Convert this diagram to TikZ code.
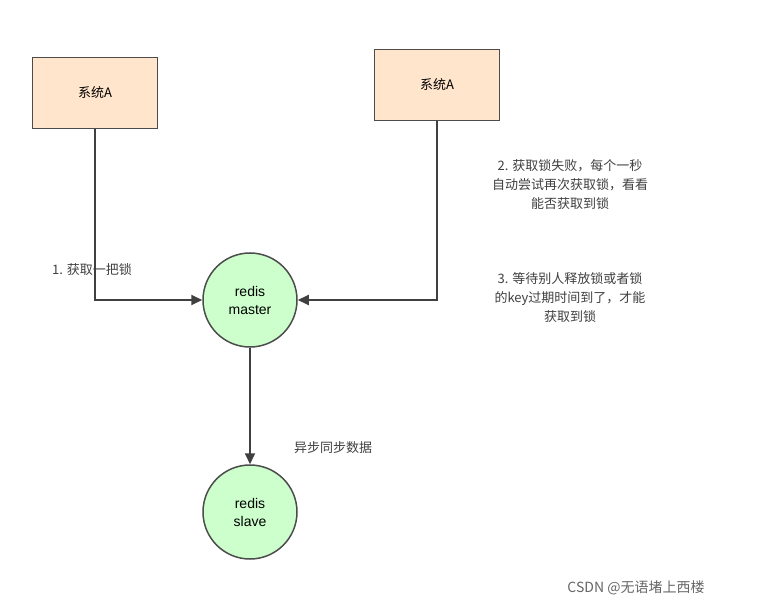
\documentclass[tikz,border=0pt]{standalone}
\usepackage{fontspec}
\setmainfont{Liberation Sans}
\newfontfamily\cjk{Noto Sans CJK SC}
\usetikzlibrary{arrows.meta}
\begin{document}
\begin{tikzpicture}[x=1pt,y=-1pt,
  sysbox/.style={draw=black!70,fill=orange!20!white,line width=1.5pt,minimum width=125pt,minimum height=71pt,font=\cjk\fontsize{13}{15}\selectfont},
  redis/.style={circle,draw=black!70,fill=green!20!white,line width=1.5pt,minimum size=94pt,align=center,font=\fontsize{14}{18}\selectfont},
  conn/.style={draw=black!75,line width=2pt,-{Triangle[length=11pt,width=10pt]}},
  lbl/.style={font=\cjk\fontsize{13}{19}\selectfont,text=black!75,align=center}]
\useasboundingbox[fill=white] (0,0) rectangle (758,607);
\node[sysbox] (a1) at (95,93) {系统A};
\node[sysbox] (a2) at (437,85) {系统A};
\node[redis] (m) at (250,300) {redis\\master};
\node[redis] (s) at (250,512) {redis\\slave};
\draw[conn] (a1.south) |- (m.west);
\draw[conn] (a2.south) |- (m.east);
\draw[conn] (m.south) -- (s.north);
\node[lbl] (l1) at (92,270) {1. 获取一把锁};
\node[lbl] (l2) at (570,185) {2. 获取锁失败，每个一秒\\自动尝试再次获取锁，看看\\能否获取到锁};
\node[lbl] (l3) at (570,298) {3. 等待别人释放锁或者锁\\的key过期时间到了，才能\\获取到锁};
\node[lbl] (l4) at (333,448) {异步同步数据};
\node[font=\cjk\fontsize{14}{16}\selectfont,text=black!60] (wm) at (636,588) {CSDN @无语堵上西楼};
\end{tikzpicture}
\end{document}
